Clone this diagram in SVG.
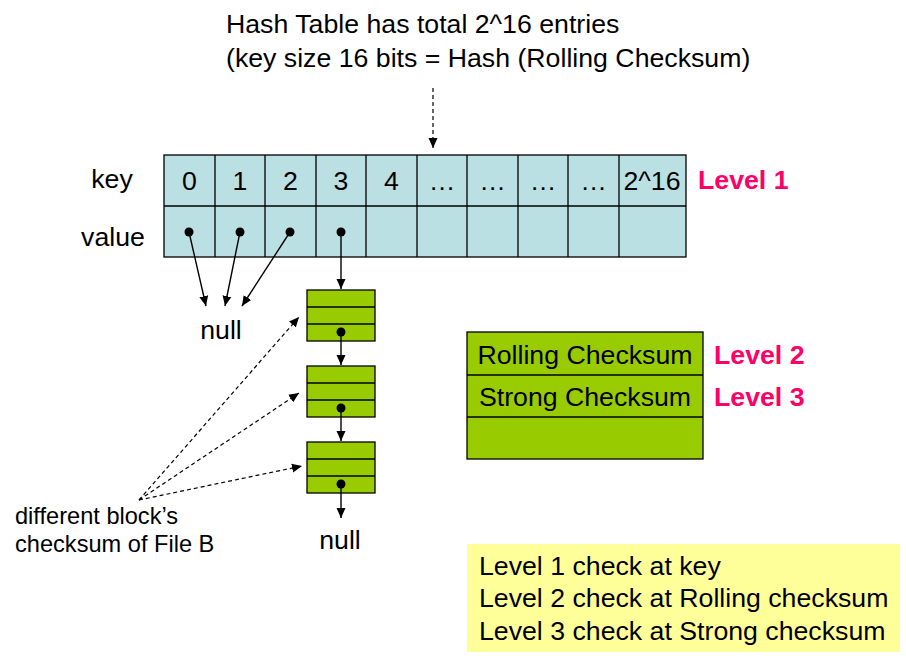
<svg xmlns="http://www.w3.org/2000/svg" width="906" height="656" viewBox="0 0 906 656">
<defs>
<style>
text{font-family:"Liberation Sans",Arial,sans-serif;fill:#000}
.t{font-size:26.7px}
.m{font-size:26.7px;text-anchor:middle}
.s{font-size:23.6px}
.lv{font-size:26.7px;font-weight:bold;fill:#FF0066}
.cell{fill:#BBE0E3;stroke:#000;stroke-width:1.3}
.grn{fill:#99CC00;stroke:#000;stroke-width:1.3}
.ln{stroke:#000;stroke-width:1.3;fill:none}
.ar{stroke:#000;stroke-width:1.4;fill:none;marker-end:url(#ah)}
.da{stroke:#000;stroke-width:1.2;fill:none;stroke-dasharray:4,3;marker-end:url(#ah)}
</style>
<marker id="ah" markerWidth="12" markerHeight="10" refX="10" refY="5" orient="auto" markerUnits="userSpaceOnUse">
<path d="M0,0.5 L10,5 L0,9.5 Z" fill="#000"/>
</marker>
</defs>
<rect width="906" height="656" fill="#fff"/>

<g id="title">
<text class="t" x="226" y="33">Hash Table has total 2^16 entries</text>
<text class="t" x="226" y="67">(key size 16 bits = Hash (Rolling Checksum)</text>
</g>

<g id="labels">
<text class="m" x="112" y="188">key</text>
<text class="m" x="113" y="246">value</text>
</g>

<g id="hashtable">
<rect class="cell" x="164" y="155" width="522" height="102"/>
<path class="ln" d="M164,206 H686 M215,155 V257 M265,155 V257 M316,155 V257 M366,155 V257 M417,155 V257 M467,155 V257 M518,155 V257 M568,155 V257 M619,155 V257"/>
<text class="m" x="189.5" y="190">0</text>
<text class="m" x="240" y="190">1</text>
<text class="m" x="290.5" y="190">2</text>
<text class="m" x="341" y="190">3</text>
<text class="m" x="391.5" y="190">4</text>
<text class="m" x="442" y="190">…</text>
<text class="m" x="492.5" y="190">…</text>
<text class="m" x="543" y="190">…</text>
<text class="m" x="593.5" y="190">…</text>
<text class="m" x="652" y="190">2^16</text>
<circle cx="189" cy="232" r="4.5"/>
<circle cx="240" cy="232" r="4.5"/>
<circle cx="290" cy="232" r="4.5"/>
<circle cx="341" cy="232" r="4.5"/>
</g>

<g id="level1"><text class="lv" x="698" y="189">Level 1</text></g>

<g id="null1"><text class="m" x="221" y="339">null</text></g>

<g id="block1">
<rect class="grn" x="307" y="290" width="68" height="51"/>
<path class="ln" d="M307,307 H375 M307,324 H375"/>
<circle cx="341" cy="332" r="4.5"/>
</g>
<g id="block2">
<rect class="grn" x="307" y="366" width="68" height="51"/>
<path class="ln" d="M307,383 H375 M307,400 H375"/>
<circle cx="341" cy="408" r="4.5"/>
</g>
<g id="block3">
<rect class="grn" x="307" y="442" width="68" height="51"/>
<path class="ln" d="M307,459 H375 M307,476 H375"/>
<circle cx="341" cy="484" r="4.5"/>
</g>

<g id="null2"><text class="m" x="340" y="549">null</text></g>

<g id="fileB">
<text class="s" x="15" y="524">different block’s</text>
<text class="s" x="15" y="552">checksum of File B</text>
</g>

<g id="record">
<rect class="grn" x="467" y="332" width="236" height="127"/>
<path class="ln" d="M467,375 H703 M467,417 H703"/>
<text class="m" x="585" y="364">Rolling Checksum</text>
<text class="m" x="585" y="406">Strong Checksum</text>
</g>
<g id="level2"><text class="lv" x="714" y="364">Level 2</text></g>
<g id="level3"><text class="lv" x="714" y="406">Level 3</text></g>

<g id="legend">
<rect x="467" y="544" width="433" height="108" fill="#FFFF99"/>
<text class="t" x="479" y="575">Level 1 check at key</text>
<text class="t" x="479" y="607">Level 2 check at Rolling checksum</text>
<text class="t" x="479" y="640">Level 3 check at Strong checksum</text>
</g>

<g id="connectors">
<path class="da" d="M433,88 V148"/>
<path class="ar" d="M189,232 L206,306"/>
<path class="ar" d="M240,232 L225,306"/>
<path class="ar" d="M290,232 L242,306"/>
<path class="ar" d="M341,232 V289"/>
<path class="ar" d="M341,332 V365"/>
<path class="ar" d="M341,408 V441"/>
<path class="ar" d="M341,484 V518"/>
<path class="da" d="M139,500 L299,317"/>
<path class="da" d="M139,500 L299,393"/>
<path class="da" d="M139,500 L302,466"/>
</g>
</svg>
